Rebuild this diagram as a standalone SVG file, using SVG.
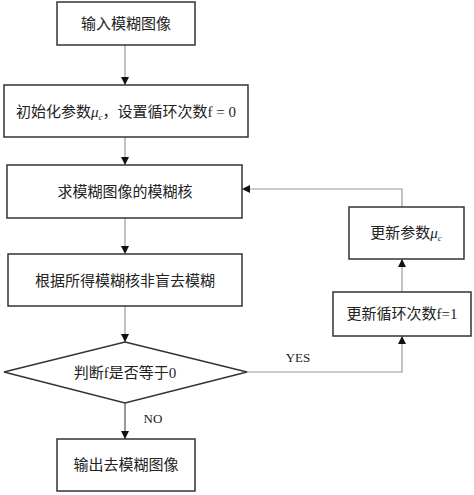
<svg xmlns="http://www.w3.org/2000/svg" width="474" height="495" viewBox="0 0 474 495">
<defs>
<style>
.box{fill:#fff;stroke:#333;stroke-width:1.5}
.t{font-family:"Liberation Serif","Noto Sans CJK SC",serif;font-size:15px;fill:#222;text-anchor:middle}
.l{font-family:"Liberation Serif",serif;font-size:13px;fill:#222;text-anchor:middle}
.c{fill:none;stroke:#999;stroke-width:1.2}
.m{font-style:italic}
</style>
<marker id="ah" viewBox="0 0 10 10" refX="10" refY="5" markerWidth="8" markerHeight="8" markerUnits="userSpaceOnUse" orient="auto">
<path d="M0,0 L10,5 L0,10 z" fill="#111"/>
</marker>
</defs>
<rect width="474" height="495" fill="#fff"/>
<g id="connectors">
<path class="c" d="M125,45 V85" marker-end="url(#ah)"/>
<path class="c" d="M125,137 V165" marker-end="url(#ah)"/>
<path class="c" d="M125,218 V254" marker-end="url(#ah)"/>
<path class="c" d="M125,306 V342" marker-end="url(#ah)"/>
<path class="c" style="stroke:#555" d="M125,403 V439" marker-end="url(#ah)"/>
<path class="c" d="M247,372 H402 V336" marker-end="url(#ah)"/>
<path class="c" d="M402,292 V259" marker-end="url(#ah)"/>
<path class="c" d="M402,207 V189 H242" marker-end="url(#ah)"/>
<text class="l" x="298" y="362">YES</text>
<text class="l" x="153" y="423">NO</text>
</g>
<g id="n1"><rect class="box" x="57" y="2" width="138" height="43"/><text class="t" x="126" y="29">输入模糊图像</text></g>
<g id="n2"><rect class="box" x="4" y="85" width="244" height="52"/><text class="t" x="126" y="117">初始化参数<tspan class="m">μ</tspan><tspan font-size="9" dy="3" class="m">c</tspan><tspan dy="-3">，设置循环次数f = 0</tspan></text></g>
<g id="n3"><rect class="box" x="7" y="165" width="235" height="53"/><text class="t" x="125" y="197">求模糊图像的模糊核</text></g>
<g id="n4"><rect class="box" x="8" y="254" width="234" height="52"/><text class="t" x="125" y="286">根据所得模糊核非盲去模糊</text></g>
<g id="n5"><polygon class="box" points="125,342 247,372 125,403 4,372"/><text class="t" x="125" y="378">判断f是否等于0</text></g>
<g id="n6"><rect class="box" x="57" y="439" width="138" height="52"/><text class="t" x="126" y="470">输出去模糊图像</text></g>
<g id="n7"><rect class="box" x="349" y="207" width="115" height="52"/><text class="t" x="406" y="238">更新参数<tspan class="m">μ</tspan><tspan font-size="9" dy="3" class="m">c</tspan></text></g>
<g id="n8"><rect class="box" x="333" y="292" width="138" height="44"/><text class="t" x="402" y="319">更新循环次数f=1</text></g>
</svg>
